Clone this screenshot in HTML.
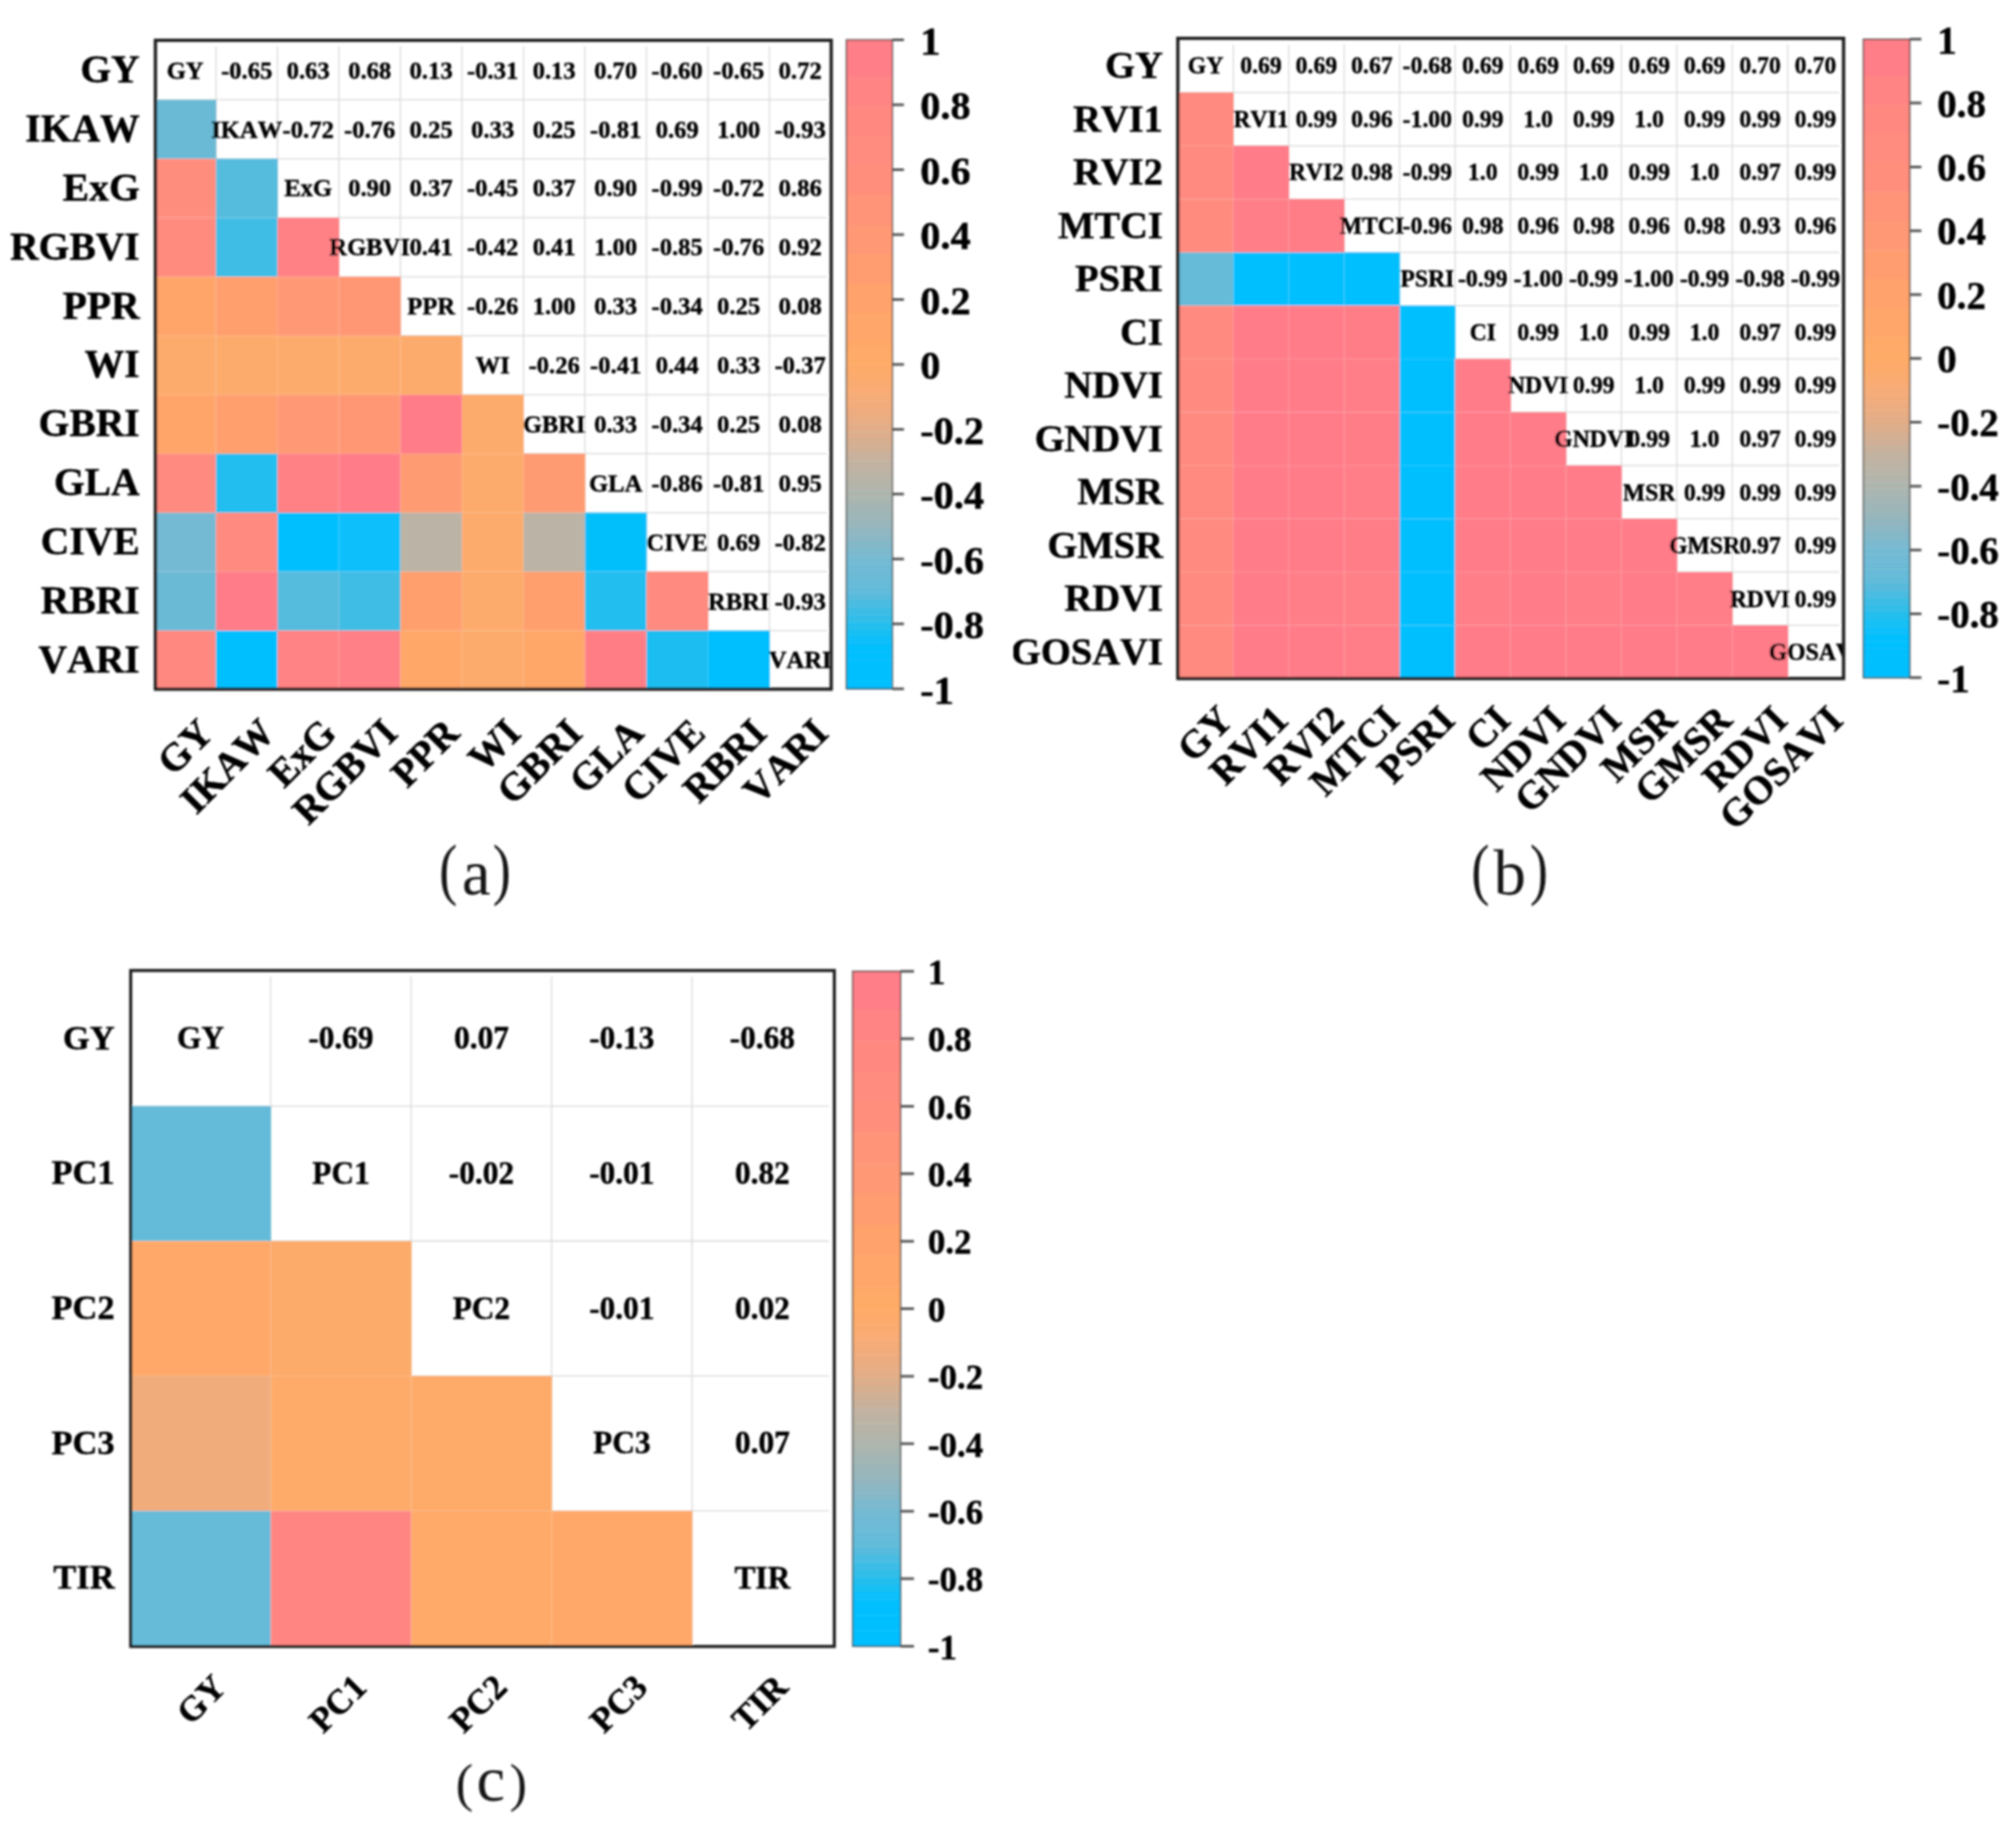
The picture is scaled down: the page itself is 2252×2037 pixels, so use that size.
<!DOCTYPE html>
<html lang="en">
<head>
<meta charset="utf-8">
<title>Correlation heatmaps</title>
<style>
html,body{margin:0;padding:0;background:#fff;}
body{width:2252px;height:2037px;overflow:hidden;}
svg{display:block;}
text{white-space:pre;font-kerning:none;}
</style>
</head>
<body>
<svg width="2252" height="2037" viewBox="0 0 2252 2037">
<defs>
<clipPath id="rowclipb"><rect x="1132.7" y="0" width="400" height="900"/></clipPath>
<filter id="soft" x="-2%" y="-2%" width="104%" height="104%"><feGaussianBlur stdDeviation="1.0"/></filter>
</defs>
<rect x="0" y="0" width="2252" height="2037" fill="#fff"/>
<g filter="url(#soft)">
<g id="panel-a">
<clipPath id="clip-a"><rect x="172.5" y="45.6" width="755.7" height="724.57"/></clipPath>
<path d="M241.2 51.6V770.17M172.5 111.47H924.2M309.9 51.6V770.17M172.5 177.34H924.2M378.6 51.6V770.17M172.5 243.21H924.2M447.3 51.6V770.17M172.5 309.08H924.2M516 51.6V770.17M172.5 374.95H924.2M584.7 51.6V770.17M172.5 440.82H924.2M653.4 51.6V770.17M172.5 506.69H924.2M722.1 51.6V770.17M172.5 572.56H924.2M790.8 51.6V770.17M172.5 638.43H924.2M859.5 51.6V770.17M172.5 704.3H924.2" stroke="#d9d9d9" stroke-width="1.3" fill="none"/>
<rect x="172.5" y="111.47" width="69" height="66.17" fill="#6bbad6"/>
<rect x="172.5" y="177.34" width="69" height="66.17" fill="#ff8d7d"/>
<rect x="241.2" y="177.34" width="69" height="66.17" fill="#56bcde"/>
<rect x="172.5" y="243.21" width="69" height="66.17" fill="#ff8b7e"/>
<rect x="241.2" y="243.21" width="69" height="66.17" fill="#3fbde5"/>
<rect x="309.9" y="243.21" width="69" height="66.17" fill="#ff8185"/>
<rect x="172.5" y="309.08" width="69" height="66.17" fill="#ffa56a"/>
<rect x="241.2" y="309.08" width="69" height="66.17" fill="#ff9f6e"/>
<rect x="309.9" y="309.08" width="69" height="66.17" fill="#ff9974"/>
<rect x="378.6" y="309.08" width="69" height="66.17" fill="#ff9775"/>
<rect x="172.5" y="374.95" width="69" height="66.17" fill="#fdab6c"/>
<rect x="241.2" y="374.95" width="69" height="66.17" fill="#fdab6c"/>
<rect x="309.9" y="374.95" width="69" height="66.17" fill="#fdab6c"/>
<rect x="378.6" y="374.95" width="69" height="66.17" fill="#fdab6c"/>
<rect x="447.3" y="374.95" width="69" height="66.17" fill="#fdab6c"/>
<rect x="172.5" y="440.82" width="69" height="66.17" fill="#ffa56a"/>
<rect x="241.2" y="440.82" width="69" height="66.17" fill="#ff9f6e"/>
<rect x="309.9" y="440.82" width="69" height="66.17" fill="#ff9974"/>
<rect x="378.6" y="440.82" width="69" height="66.17" fill="#ff9775"/>
<rect x="447.3" y="440.82" width="69" height="66.17" fill="#ff7c88"/>
<rect x="516" y="440.82" width="69" height="66.17" fill="#fdab6c"/>
<rect x="172.5" y="506.69" width="69" height="66.17" fill="#ff8a7f"/>
<rect x="241.2" y="506.69" width="69" height="66.17" fill="#22beef"/>
<rect x="309.9" y="506.69" width="69" height="66.17" fill="#ff8185"/>
<rect x="378.6" y="506.69" width="69" height="66.17" fill="#ff7c88"/>
<rect x="447.3" y="506.69" width="69" height="66.17" fill="#ff9b72"/>
<rect x="516" y="506.69" width="69" height="66.17" fill="#fdab6c"/>
<rect x="584.7" y="506.69" width="69" height="66.17" fill="#ff9b72"/>
<rect x="172.5" y="572.56" width="69" height="66.17" fill="#75bad3"/>
<rect x="241.2" y="572.56" width="69" height="66.17" fill="#ff8a7f"/>
<rect x="309.9" y="572.56" width="69" height="66.17" fill="#00bfff"/>
<rect x="378.6" y="572.56" width="69" height="66.17" fill="#08bffa"/>
<rect x="447.3" y="572.56" width="69" height="66.17" fill="#bbb3a5"/>
<rect x="516" y="572.56" width="69" height="66.17" fill="#fdab6c"/>
<rect x="584.7" y="572.56" width="69" height="66.17" fill="#bbb3a5"/>
<rect x="653.4" y="572.56" width="69" height="66.17" fill="#06bffb"/>
<rect x="172.5" y="638.43" width="69" height="66.17" fill="#6bbad6"/>
<rect x="241.2" y="638.43" width="69" height="66.17" fill="#ff7c88"/>
<rect x="309.9" y="638.43" width="69" height="66.17" fill="#56bcde"/>
<rect x="378.6" y="638.43" width="69" height="66.17" fill="#3fbde5"/>
<rect x="447.3" y="638.43" width="69" height="66.17" fill="#ff9f6e"/>
<rect x="516" y="638.43" width="69" height="66.17" fill="#fdab6c"/>
<rect x="584.7" y="638.43" width="69" height="66.17" fill="#ff9f6e"/>
<rect x="653.4" y="638.43" width="69" height="66.17" fill="#22beef"/>
<rect x="722.1" y="638.43" width="69" height="66.17" fill="#ff8a7f"/>
<rect x="172.5" y="704.3" width="69" height="66.17" fill="#ff8980"/>
<rect x="241.2" y="704.3" width="69" height="66.17" fill="#00bfff"/>
<rect x="309.9" y="704.3" width="69" height="66.17" fill="#ff8384"/>
<rect x="378.6" y="704.3" width="69" height="66.17" fill="#ff8086"/>
<rect x="447.3" y="704.3" width="69" height="66.17" fill="#ffa769"/>
<rect x="516" y="704.3" width="69" height="66.17" fill="#fdab6c"/>
<rect x="584.7" y="704.3" width="69" height="66.17" fill="#ffa769"/>
<rect x="653.4" y="704.3" width="69" height="66.17" fill="#ff7e86"/>
<rect x="722.1" y="704.3" width="69" height="66.17" fill="#1bbef2"/>
<rect x="790.8" y="704.3" width="69" height="66.17" fill="#00bfff"/>
<path d="M241.2 177.34V770.17M172.5 111.47H172.5M309.9 243.21V770.17M172.5 177.34H241.2M378.6 309.08V770.17M172.5 243.21H309.9M447.3 374.95V770.17M172.5 309.08H378.6M516 440.82V770.17M172.5 374.95H447.3M584.7 506.69V770.17M172.5 440.82H516M653.4 572.56V770.17M172.5 506.69H584.7M722.1 638.43V770.17M172.5 572.56H653.4M790.8 704.3V770.17M172.5 638.43H722.1M859.5 770.17V770.17M172.5 704.3H790.8" stroke="#fff" stroke-opacity="0.16" stroke-width="1.3" fill="none"/>
<g clip-path="url(#clip-a)" font-family="'Liberation Serif','DejaVu Serif',serif" font-weight="bold" font-size="27.5" text-anchor="middle" fill="#000" stroke="#000" stroke-width="0.45">
<text x="206.85" y="87.75">GY</text>
<text x="275.55" y="87.75">-0.65</text>
<text x="344.25" y="87.75">0.63</text>
<text x="412.95" y="87.75">0.68</text>
<text x="481.65" y="87.75">0.13</text>
<text x="550.35" y="87.75">-0.31</text>
<text x="619.05" y="87.75">0.13</text>
<text x="687.75" y="87.75">0.70</text>
<text x="756.45" y="87.75">-0.60</text>
<text x="825.15" y="87.75">-0.65</text>
<text x="893.85" y="87.75">0.72</text>
<text x="275.55" y="153.62">IKAW</text>
<text x="344.25" y="153.62">-0.72</text>
<text x="412.95" y="153.62">-0.76</text>
<text x="481.65" y="153.62">0.25</text>
<text x="550.35" y="153.62">0.33</text>
<text x="619.05" y="153.62">0.25</text>
<text x="687.75" y="153.62">-0.81</text>
<text x="756.45" y="153.62">0.69</text>
<text x="825.15" y="153.62">1.00</text>
<text x="893.85" y="153.62">-0.93</text>
<text x="344.25" y="219.49">ExG</text>
<text x="412.95" y="219.49">0.90</text>
<text x="481.65" y="219.49">0.37</text>
<text x="550.35" y="219.49">-0.45</text>
<text x="619.05" y="219.49">0.37</text>
<text x="687.75" y="219.49">0.90</text>
<text x="756.45" y="219.49">-0.99</text>
<text x="825.15" y="219.49">-0.72</text>
<text x="893.85" y="219.49">0.86</text>
<text x="412.95" y="285.36">RGBVI</text>
<text x="481.65" y="285.36">0.41</text>
<text x="550.35" y="285.36">-0.42</text>
<text x="619.05" y="285.36">0.41</text>
<text x="687.75" y="285.36">1.00</text>
<text x="756.45" y="285.36">-0.85</text>
<text x="825.15" y="285.36">-0.76</text>
<text x="893.85" y="285.36">0.92</text>
<text x="481.65" y="351.23">PPR</text>
<text x="550.35" y="351.23">-0.26</text>
<text x="619.05" y="351.23">1.00</text>
<text x="687.75" y="351.23">0.33</text>
<text x="756.45" y="351.23">-0.34</text>
<text x="825.15" y="351.23">0.25</text>
<text x="893.85" y="351.23">0.08</text>
<text x="550.35" y="417.1">WI</text>
<text x="619.05" y="417.1">-0.26</text>
<text x="687.75" y="417.1">-0.41</text>
<text x="756.45" y="417.1">0.44</text>
<text x="825.15" y="417.1">0.33</text>
<text x="893.85" y="417.1">-0.37</text>
<text x="619.05" y="482.97">GBRI</text>
<text x="687.75" y="482.97">0.33</text>
<text x="756.45" y="482.97">-0.34</text>
<text x="825.15" y="482.97">0.25</text>
<text x="893.85" y="482.97">0.08</text>
<text x="687.75" y="548.84">GLA</text>
<text x="756.45" y="548.84">-0.86</text>
<text x="825.15" y="548.84">-0.81</text>
<text x="893.85" y="548.84">0.95</text>
<text x="756.45" y="614.71">CIVE</text>
<text x="825.15" y="614.71">0.69</text>
<text x="893.85" y="614.71">-0.82</text>
<text x="825.15" y="680.58">RBRI</text>
<text x="893.85" y="680.58">-0.93</text>
<text x="893.85" y="746.45">VARI</text>
</g>
<rect x="173.6" y="45" width="754.9" height="724.6" fill="none" stroke="#1c1c1c" stroke-width="3.6"/>
<g font-family="'Liberation Serif','DejaVu Serif',serif" font-weight="bold" font-size="44.2" text-anchor="end" fill="#000" stroke="#000" stroke-width="0.5">
<text x="156" y="92.14">GY</text>
<text x="156" y="158.01">IKAW</text>
<text x="156" y="223.88">ExG</text>
<text x="156" y="289.75">RGBVI</text>
<text x="156" y="355.62">PPR</text>
<text x="156" y="421.49">WI</text>
<text x="156" y="487.36">GBRI</text>
<text x="156" y="553.23">GLA</text>
<text x="156" y="619.1">CIVE</text>
<text x="156" y="684.97">RBRI</text>
<text x="156" y="750.84">VARI</text>
</g>
<g font-family="'Liberation Serif','DejaVu Serif',serif" font-weight="bold" font-size="44" text-anchor="end" fill="#000" stroke="#000" stroke-width="0.5">
<text transform="translate(240.35 821) rotate(-45)">GY</text>
<text transform="translate(309.05 821) rotate(-45)">IKAW</text>
<text transform="translate(377.75 821) rotate(-45)">ExG</text>
<text transform="translate(446.45 821) rotate(-45)">RGBVI</text>
<text transform="translate(515.15 821) rotate(-45)">PPR</text>
<text transform="translate(583.85 821) rotate(-45)">WI</text>
<text transform="translate(652.55 821) rotate(-45)">GBRI</text>
<text transform="translate(721.25 821) rotate(-45)">GLA</text>
<text transform="translate(789.95 821) rotate(-45)">CIVE</text>
<text transform="translate(858.65 821) rotate(-45)">RBRI</text>
<text transform="translate(927.35 821) rotate(-45)">VARI</text>
</g>
<rect x="945.5" y="44.5" width="51.3" height="42.08" fill="#ff7e87"/>
<rect x="945.5" y="86.18" width="51.3" height="33.34" fill="#ff8483"/>
<rect x="945.5" y="119.12" width="51.3" height="33.34" fill="#ff8880"/>
<rect x="945.5" y="152.06" width="51.3" height="33.34" fill="#ff8c7e"/>
<rect x="945.5" y="185" width="51.3" height="33.34" fill="#ff8f7b"/>
<rect x="945.5" y="217.94" width="51.3" height="33.34" fill="#ff9478"/>
<rect x="945.5" y="250.89" width="51.3" height="33.34" fill="#ff9874"/>
<rect x="945.5" y="283.83" width="51.3" height="33.34" fill="#ff9d70"/>
<rect x="945.5" y="316.77" width="51.3" height="33.34" fill="#ffa26c"/>
<rect x="945.5" y="349.71" width="51.3" height="33.34" fill="#ffa66a"/>
<rect x="945.5" y="382.66" width="51.3" height="8.63" fill="#ffa968"/>
<rect x="945.5" y="390.88" width="51.3" height="8.63" fill="#ffaa68"/>
<rect x="945.5" y="399.11" width="51.3" height="8.63" fill="#ffab67"/>
<rect x="945.5" y="407.33" width="51.3" height="8.63" fill="#feab69"/>
<rect x="945.5" y="415.56" width="51.3" height="8.63" fill="#fcab6d"/>
<rect x="945.5" y="423.79" width="51.3" height="8.63" fill="#faac70"/>
<rect x="945.5" y="432.01" width="51.3" height="8.63" fill="#f9ac74"/>
<rect x="945.5" y="440.24" width="51.3" height="8.63" fill="#f6ac78"/>
<rect x="945.5" y="448.47" width="51.3" height="8.63" fill="#f2ac7b"/>
<rect x="945.5" y="456.69" width="51.3" height="8.63" fill="#edac7f"/>
<rect x="945.5" y="464.92" width="51.3" height="8.63" fill="#e8ad83"/>
<rect x="945.5" y="473.15" width="51.3" height="8.63" fill="#e3ad87"/>
<rect x="945.5" y="481.37" width="51.3" height="8.63" fill="#ddae8c"/>
<rect x="945.5" y="489.6" width="51.3" height="8.63" fill="#d6af91"/>
<rect x="945.5" y="497.83" width="51.3" height="8.63" fill="#cfb097"/>
<rect x="945.5" y="506.05" width="51.3" height="8.63" fill="#c8b19c"/>
<rect x="945.5" y="514.28" width="51.3" height="8.63" fill="#c1b2a1"/>
<rect x="945.5" y="522.51" width="51.3" height="8.63" fill="#bdb3a4"/>
<rect x="945.5" y="530.73" width="51.3" height="8.63" fill="#b8b4a7"/>
<rect x="945.5" y="538.96" width="51.3" height="8.63" fill="#b3b4aa"/>
<rect x="945.5" y="547.19" width="51.3" height="8.63" fill="#aeb5ad"/>
<rect x="945.5" y="555.41" width="51.3" height="8.63" fill="#a9b5b0"/>
<rect x="945.5" y="563.64" width="51.3" height="8.63" fill="#a3b5b4"/>
<rect x="945.5" y="571.86" width="51.3" height="8.63" fill="#9eb6b7"/>
<rect x="945.5" y="580.09" width="51.3" height="8.63" fill="#99b6ba"/>
<rect x="945.5" y="588.32" width="51.3" height="8.63" fill="#92b6bf"/>
<rect x="945.5" y="596.54" width="51.3" height="8.63" fill="#8bb7c4"/>
<rect x="945.5" y="604.77" width="51.3" height="8.63" fill="#83b8c9"/>
<rect x="945.5" y="613" width="51.3" height="8.63" fill="#7cb9ce"/>
<rect x="945.5" y="621.22" width="51.3" height="8.63" fill="#74bad3"/>
<rect x="945.5" y="629.45" width="51.3" height="8.63" fill="#70bad5"/>
<rect x="945.5" y="637.68" width="51.3" height="8.63" fill="#6cbad6"/>
<rect x="945.5" y="645.9" width="51.3" height="8.63" fill="#68bbd8"/>
<rect x="945.5" y="654.13" width="51.3" height="8.63" fill="#63bbda"/>
<rect x="945.5" y="662.36" width="51.3" height="8.63" fill="#59bbdd"/>
<rect x="945.5" y="670.58" width="51.3" height="8.63" fill="#4bbce1"/>
<rect x="945.5" y="678.81" width="51.3" height="8.63" fill="#3ebde5"/>
<rect x="945.5" y="687.04" width="51.3" height="8.63" fill="#31bee9"/>
<rect x="945.5" y="695.26" width="51.3" height="8.63" fill="#23beee"/>
<rect x="945.5" y="703.49" width="51.3" height="8.63" fill="#15bff4"/>
<rect x="945.5" y="711.71" width="51.3" height="8.63" fill="#08bffa"/>
<rect x="945.5" y="719.94" width="51.3" height="8.63" fill="#04bffd"/>
<rect x="945.5" y="728.17" width="51.3" height="8.63" fill="#00bfff"/>
<rect x="945.5" y="736.39" width="51.3" height="8.63" fill="#00bfff"/>
<rect x="945.5" y="744.62" width="51.3" height="8.63" fill="#00bfff"/>
<rect x="945.5" y="752.85" width="51.3" height="8.63" fill="#00bfff"/>
<rect x="945.5" y="761.07" width="51.3" height="8.63" fill="#00bfff"/>
<rect x="945.5" y="44.5" width="51.3" height="724.8" fill="none" stroke="#3a3a3a" stroke-opacity="0.85" stroke-width="1.5"/>
<path d="M996.8 44.5h13M996.8 116.98h13M996.8 189.46h13M996.8 261.94h13M996.8 334.42h13M996.8 406.9h13M996.8 479.38h13M996.8 551.86h13M996.8 624.34h13M996.8 696.82h13M996.8 769.3h13" stroke="#5a5a5a" stroke-width="3" fill="none"/>
<g font-family="'Liberation Serif','DejaVu Serif',serif" font-weight="bold" font-size="45" fill="#000" stroke="#000" stroke-width="0.5">
<text x="1028" y="60.71">1</text>
<text x="1028" y="133.19">0.8</text>
<text x="1028" y="205.67">0.6</text>
<text x="1028" y="278.15">0.4</text>
<text x="1028" y="350.63">0.2</text>
<text x="1028" y="423.11">0</text>
<text x="1028" y="495.59">-0.2</text>
<text x="1028" y="568.07">-0.4</text>
<text x="1028" y="640.55">-0.6</text>
<text x="1028" y="713.03">-0.8</text>
<text x="1028" y="785.51">-1</text>
</g>
<g font-family="'Liberation Serif','DejaVu Serif',serif" text-anchor="middle" fill="#161616">
<text transform="translate(500.7 996.3) scale(0.8 1)" font-size="76">(</text>
<text x="531.9" y="998.6" font-size="72">a</text>
<text transform="translate(560.7 996.3) scale(0.8 1)" font-size="76">)</text>
</g>
</g>
<g id="panel-b">
<clipPath id="clip-b"><rect x="1315.7" y="43.8" width="743.28" height="714.12"/></clipPath>
<path d="M1377.64 49.8V757.92M1315.7 103.31H2054.98M1439.58 49.8V757.92M1315.7 162.82H2054.98M1501.52 49.8V757.92M1315.7 222.33H2054.98M1563.46 49.8V757.92M1315.7 281.84H2054.98M1625.4 49.8V757.92M1315.7 341.35H2054.98M1687.34 49.8V757.92M1315.7 400.86H2054.98M1749.28 49.8V757.92M1315.7 460.37H2054.98M1811.22 49.8V757.92M1315.7 519.88H2054.98M1873.16 49.8V757.92M1315.7 579.39H2054.98M1935.1 49.8V757.92M1315.7 638.9H2054.98M1997.04 49.8V757.92M1315.7 698.41H2054.98" stroke="#d9d9d9" stroke-width="1.3" fill="none"/>
<rect x="1315.7" y="103.31" width="62.24" height="59.81" fill="#ff8a7f"/>
<rect x="1315.7" y="162.82" width="62.24" height="59.81" fill="#ff8a7f"/>
<rect x="1377.64" y="162.82" width="62.24" height="59.81" fill="#ff7c88"/>
<rect x="1315.7" y="222.33" width="62.24" height="59.81" fill="#ff8b7e"/>
<rect x="1377.64" y="222.33" width="62.24" height="59.81" fill="#ff7e87"/>
<rect x="1439.58" y="222.33" width="62.24" height="59.81" fill="#ff7d87"/>
<rect x="1315.7" y="281.84" width="62.24" height="59.81" fill="#66bbd9"/>
<rect x="1377.64" y="281.84" width="62.24" height="59.81" fill="#00bfff"/>
<rect x="1439.58" y="281.84" width="62.24" height="59.81" fill="#00bfff"/>
<rect x="1501.52" y="281.84" width="62.24" height="59.81" fill="#00bfff"/>
<rect x="1315.7" y="341.35" width="62.24" height="59.81" fill="#ff8a7f"/>
<rect x="1377.64" y="341.35" width="62.24" height="59.81" fill="#ff7c88"/>
<rect x="1439.58" y="341.35" width="62.24" height="59.81" fill="#ff7c88"/>
<rect x="1501.52" y="341.35" width="62.24" height="59.81" fill="#ff7d87"/>
<rect x="1563.46" y="341.35" width="62.24" height="59.81" fill="#00bfff"/>
<rect x="1315.7" y="400.86" width="62.24" height="59.81" fill="#ff8a7f"/>
<rect x="1377.64" y="400.86" width="62.24" height="59.81" fill="#ff7c88"/>
<rect x="1439.58" y="400.86" width="62.24" height="59.81" fill="#ff7c88"/>
<rect x="1501.52" y="400.86" width="62.24" height="59.81" fill="#ff7e87"/>
<rect x="1563.46" y="400.86" width="62.24" height="59.81" fill="#00bfff"/>
<rect x="1625.4" y="400.86" width="62.24" height="59.81" fill="#ff7c88"/>
<rect x="1315.7" y="460.37" width="62.24" height="59.81" fill="#ff8a7f"/>
<rect x="1377.64" y="460.37" width="62.24" height="59.81" fill="#ff7c88"/>
<rect x="1439.58" y="460.37" width="62.24" height="59.81" fill="#ff7c88"/>
<rect x="1501.52" y="460.37" width="62.24" height="59.81" fill="#ff7d87"/>
<rect x="1563.46" y="460.37" width="62.24" height="59.81" fill="#00bfff"/>
<rect x="1625.4" y="460.37" width="62.24" height="59.81" fill="#ff7c88"/>
<rect x="1687.34" y="460.37" width="62.24" height="59.81" fill="#ff7c88"/>
<rect x="1315.7" y="519.88" width="62.24" height="59.81" fill="#ff8a7f"/>
<rect x="1377.64" y="519.88" width="62.24" height="59.81" fill="#ff7c88"/>
<rect x="1439.58" y="519.88" width="62.24" height="59.81" fill="#ff7c88"/>
<rect x="1501.52" y="519.88" width="62.24" height="59.81" fill="#ff7e87"/>
<rect x="1563.46" y="519.88" width="62.24" height="59.81" fill="#00bfff"/>
<rect x="1625.4" y="519.88" width="62.24" height="59.81" fill="#ff7c88"/>
<rect x="1687.34" y="519.88" width="62.24" height="59.81" fill="#ff7c88"/>
<rect x="1749.28" y="519.88" width="62.24" height="59.81" fill="#ff7c88"/>
<rect x="1315.7" y="579.39" width="62.24" height="59.81" fill="#ff8a7f"/>
<rect x="1377.64" y="579.39" width="62.24" height="59.81" fill="#ff7c88"/>
<rect x="1439.58" y="579.39" width="62.24" height="59.81" fill="#ff7c88"/>
<rect x="1501.52" y="579.39" width="62.24" height="59.81" fill="#ff7d87"/>
<rect x="1563.46" y="579.39" width="62.24" height="59.81" fill="#00bfff"/>
<rect x="1625.4" y="579.39" width="62.24" height="59.81" fill="#ff7c88"/>
<rect x="1687.34" y="579.39" width="62.24" height="59.81" fill="#ff7c88"/>
<rect x="1749.28" y="579.39" width="62.24" height="59.81" fill="#ff7c88"/>
<rect x="1811.22" y="579.39" width="62.24" height="59.81" fill="#ff7c88"/>
<rect x="1315.7" y="638.9" width="62.24" height="59.81" fill="#ff8a7f"/>
<rect x="1377.64" y="638.9" width="62.24" height="59.81" fill="#ff7c88"/>
<rect x="1439.58" y="638.9" width="62.24" height="59.81" fill="#ff7e87"/>
<rect x="1501.52" y="638.9" width="62.24" height="59.81" fill="#ff8086"/>
<rect x="1563.46" y="638.9" width="62.24" height="59.81" fill="#00bfff"/>
<rect x="1625.4" y="638.9" width="62.24" height="59.81" fill="#ff7e87"/>
<rect x="1687.34" y="638.9" width="62.24" height="59.81" fill="#ff7c88"/>
<rect x="1749.28" y="638.9" width="62.24" height="59.81" fill="#ff7e87"/>
<rect x="1811.22" y="638.9" width="62.24" height="59.81" fill="#ff7c88"/>
<rect x="1873.16" y="638.9" width="62.24" height="59.81" fill="#ff7e87"/>
<rect x="1315.7" y="698.41" width="62.24" height="59.81" fill="#ff8a7f"/>
<rect x="1377.64" y="698.41" width="62.24" height="59.81" fill="#ff7c88"/>
<rect x="1439.58" y="698.41" width="62.24" height="59.81" fill="#ff7c88"/>
<rect x="1501.52" y="698.41" width="62.24" height="59.81" fill="#ff7e87"/>
<rect x="1563.46" y="698.41" width="62.24" height="59.81" fill="#00bfff"/>
<rect x="1625.4" y="698.41" width="62.24" height="59.81" fill="#ff7c88"/>
<rect x="1687.34" y="698.41" width="62.24" height="59.81" fill="#ff7c88"/>
<rect x="1749.28" y="698.41" width="62.24" height="59.81" fill="#ff7c88"/>
<rect x="1811.22" y="698.41" width="62.24" height="59.81" fill="#ff7c88"/>
<rect x="1873.16" y="698.41" width="62.24" height="59.81" fill="#ff7c88"/>
<rect x="1935.1" y="698.41" width="62.24" height="59.81" fill="#ff7c88"/>
<path d="M1377.64 162.82V757.92M1315.7 103.31H1315.7M1439.58 222.33V757.92M1315.7 162.82H1377.64M1501.52 281.84V757.92M1315.7 222.33H1439.58M1563.46 341.35V757.92M1315.7 281.84H1501.52M1625.4 400.86V757.92M1315.7 341.35H1563.46M1687.34 460.37V757.92M1315.7 400.86H1625.4M1749.28 519.88V757.92M1315.7 460.37H1687.34M1811.22 579.39V757.92M1315.7 519.88H1749.28M1873.16 638.9V757.92M1315.7 579.39H1811.22M1935.1 698.41V757.92M1315.7 638.9H1873.16M1997.04 757.92V757.92M1315.7 698.41H1935.1" stroke="#fff" stroke-opacity="0.16" stroke-width="1.3" fill="none"/>
<g clip-path="url(#clip-b)" font-family="'Liberation Serif','DejaVu Serif',serif" font-weight="bold" font-size="26.5" text-anchor="middle" fill="#000" stroke="#000" stroke-width="0.45">
<text x="1346.67" y="82.43">GY</text>
<text x="1408.61" y="82.43">0.69</text>
<text x="1470.55" y="82.43">0.69</text>
<text x="1532.49" y="82.43">0.67</text>
<text x="1594.43" y="82.43">-0.68</text>
<text x="1656.37" y="82.43">0.69</text>
<text x="1718.31" y="82.43">0.69</text>
<text x="1780.25" y="82.43">0.69</text>
<text x="1842.19" y="82.43">0.69</text>
<text x="1904.13" y="82.43">0.69</text>
<text x="1966.07" y="82.43">0.70</text>
<text x="2028.01" y="82.43">0.70</text>
<text x="1408.61" y="141.94">RVI1</text>
<text x="1470.55" y="141.94">0.99</text>
<text x="1532.49" y="141.94">0.96</text>
<text x="1594.43" y="141.94">-1.00</text>
<text x="1656.37" y="141.94">0.99</text>
<text x="1718.31" y="141.94">1.0</text>
<text x="1780.25" y="141.94">0.99</text>
<text x="1842.19" y="141.94">1.0</text>
<text x="1904.13" y="141.94">0.99</text>
<text x="1966.07" y="141.94">0.99</text>
<text x="2028.01" y="141.94">0.99</text>
<text x="1470.55" y="201.45">RVI2</text>
<text x="1532.49" y="201.45">0.98</text>
<text x="1594.43" y="201.45">-0.99</text>
<text x="1656.37" y="201.45">1.0</text>
<text x="1718.31" y="201.45">0.99</text>
<text x="1780.25" y="201.45">1.0</text>
<text x="1842.19" y="201.45">0.99</text>
<text x="1904.13" y="201.45">1.0</text>
<text x="1966.07" y="201.45">0.97</text>
<text x="2028.01" y="201.45">0.99</text>
<text x="1532.49" y="260.96">MTCI</text>
<text x="1594.43" y="260.96">-0.96</text>
<text x="1656.37" y="260.96">0.98</text>
<text x="1718.31" y="260.96">0.96</text>
<text x="1780.25" y="260.96">0.98</text>
<text x="1842.19" y="260.96">0.96</text>
<text x="1904.13" y="260.96">0.98</text>
<text x="1966.07" y="260.96">0.93</text>
<text x="2028.01" y="260.96">0.96</text>
<text x="1594.43" y="320.47">PSRI</text>
<text x="1656.37" y="320.47">-0.99</text>
<text x="1718.31" y="320.47">-1.00</text>
<text x="1780.25" y="320.47">-0.99</text>
<text x="1842.19" y="320.47">-1.00</text>
<text x="1904.13" y="320.47">-0.99</text>
<text x="1966.07" y="320.47">-0.98</text>
<text x="2028.01" y="320.47">-0.99</text>
<text x="1656.37" y="379.98">CI</text>
<text x="1718.31" y="379.98">0.99</text>
<text x="1780.25" y="379.98">1.0</text>
<text x="1842.19" y="379.98">0.99</text>
<text x="1904.13" y="379.98">1.0</text>
<text x="1966.07" y="379.98">0.97</text>
<text x="2028.01" y="379.98">0.99</text>
<text x="1718.31" y="439.49">NDVI</text>
<text x="1780.25" y="439.49">0.99</text>
<text x="1842.19" y="439.49">1.0</text>
<text x="1904.13" y="439.49">0.99</text>
<text x="1966.07" y="439.49">0.99</text>
<text x="2028.01" y="439.49">0.99</text>
<text x="1780.25" y="499">GNDVI</text>
<text x="1842.19" y="499">0.99</text>
<text x="1904.13" y="499">1.0</text>
<text x="1966.07" y="499">0.97</text>
<text x="2028.01" y="499">0.99</text>
<text x="1842.19" y="558.51">MSR</text>
<text x="1904.13" y="558.51">0.99</text>
<text x="1966.07" y="558.51">0.99</text>
<text x="2028.01" y="558.51">0.99</text>
<text x="1904.13" y="618.02">GMSR</text>
<text x="1966.07" y="618.02">0.97</text>
<text x="2028.01" y="618.02">0.99</text>
<text x="1966.07" y="677.53">RDVI</text>
<text x="2028.01" y="677.53">0.99</text>
<text x="2028.01" y="737.04">GOSAVI</text>
</g>
<rect x="1315.7" y="42.8" width="743.7" height="714.9" fill="none" stroke="#1c1c1c" stroke-width="3.6"/>
<g font-family="'Liberation Serif','DejaVu Serif',serif" font-weight="bold" font-size="43" text-anchor="end" fill="#000" stroke="#000" stroke-width="0.5" clip-path="url(#rowclipb)">
<text x="1299" y="87.16">GY</text>
<text x="1299" y="146.67">RVI1</text>
<text x="1299" y="206.18">RVI2</text>
<text x="1299" y="265.69">MTCI</text>
<text x="1299" y="325.2">PSRI</text>
<text x="1299" y="384.71">CI</text>
<text x="1299" y="444.22">NDVI</text>
<text x="1299" y="503.73">GNDVI</text>
<text x="1299" y="563.24">MSR</text>
<text x="1299" y="622.75">GMSR</text>
<text x="1299" y="682.26">RDVI</text>
<text x="1299" y="741.77">GOSAVI</text>
</g>
<g font-family="'Liberation Serif','DejaVu Serif',serif" font-weight="bold" font-size="44" text-anchor="end" fill="#000" stroke="#000" stroke-width="0.5">
<text transform="translate(1379.57 806.3) rotate(-45)">GY</text>
<text transform="translate(1441.51 806.3) rotate(-45)">RVI1</text>
<text transform="translate(1503.45 806.3) rotate(-45)">RVI2</text>
<text transform="translate(1565.39 806.3) rotate(-45)">MTCI</text>
<text transform="translate(1627.33 806.3) rotate(-45)">PSRI</text>
<text transform="translate(1689.27 806.3) rotate(-45)">CI</text>
<text transform="translate(1751.21 806.3) rotate(-45)">NDVI</text>
<text transform="translate(1813.15 806.3) rotate(-45)">GNDVI</text>
<text transform="translate(1875.09 806.3) rotate(-45)">MSR</text>
<text transform="translate(1937.03 806.3) rotate(-45)">GMSR</text>
<text transform="translate(1998.97 806.3) rotate(-45)">RDVI</text>
<text transform="translate(2060.91 806.3) rotate(-45)">GOSAVI</text>
</g>
<rect x="2081.5" y="43.8" width="51.9" height="41.4" fill="#ff7e87"/>
<rect x="2081.5" y="84.8" width="51.9" height="32.81" fill="#ff8483"/>
<rect x="2081.5" y="117.2" width="51.9" height="32.81" fill="#ff8880"/>
<rect x="2081.5" y="149.61" width="51.9" height="32.81" fill="#ff8c7e"/>
<rect x="2081.5" y="182.02" width="51.9" height="32.81" fill="#ff8f7b"/>
<rect x="2081.5" y="214.42" width="51.9" height="32.81" fill="#ff9478"/>
<rect x="2081.5" y="246.83" width="51.9" height="32.81" fill="#ff9874"/>
<rect x="2081.5" y="279.23" width="51.9" height="32.81" fill="#ff9d70"/>
<rect x="2081.5" y="311.64" width="51.9" height="32.81" fill="#ffa26c"/>
<rect x="2081.5" y="344.04" width="51.9" height="32.81" fill="#ffa66a"/>
<rect x="2081.5" y="376.45" width="51.9" height="8.49" fill="#ffa968"/>
<rect x="2081.5" y="384.54" width="51.9" height="8.49" fill="#ffaa68"/>
<rect x="2081.5" y="392.64" width="51.9" height="8.49" fill="#ffab67"/>
<rect x="2081.5" y="400.73" width="51.9" height="8.49" fill="#feab69"/>
<rect x="2081.5" y="408.82" width="51.9" height="8.49" fill="#fcab6d"/>
<rect x="2081.5" y="416.91" width="51.9" height="8.49" fill="#faac70"/>
<rect x="2081.5" y="425.01" width="51.9" height="8.49" fill="#f9ac74"/>
<rect x="2081.5" y="433.1" width="51.9" height="8.49" fill="#f6ac78"/>
<rect x="2081.5" y="441.19" width="51.9" height="8.49" fill="#f2ac7b"/>
<rect x="2081.5" y="449.28" width="51.9" height="8.49" fill="#edac7f"/>
<rect x="2081.5" y="457.38" width="51.9" height="8.49" fill="#e8ad83"/>
<rect x="2081.5" y="465.47" width="51.9" height="8.49" fill="#e3ad87"/>
<rect x="2081.5" y="473.56" width="51.9" height="8.49" fill="#ddae8c"/>
<rect x="2081.5" y="481.65" width="51.9" height="8.49" fill="#d6af91"/>
<rect x="2081.5" y="489.75" width="51.9" height="8.49" fill="#cfb097"/>
<rect x="2081.5" y="497.84" width="51.9" height="8.49" fill="#c8b19c"/>
<rect x="2081.5" y="505.93" width="51.9" height="8.49" fill="#c1b2a1"/>
<rect x="2081.5" y="514.02" width="51.9" height="8.49" fill="#bdb3a4"/>
<rect x="2081.5" y="522.12" width="51.9" height="8.49" fill="#b8b4a7"/>
<rect x="2081.5" y="530.21" width="51.9" height="8.49" fill="#b3b4aa"/>
<rect x="2081.5" y="538.3" width="51.9" height="8.49" fill="#aeb5ad"/>
<rect x="2081.5" y="546.39" width="51.9" height="8.49" fill="#a9b5b0"/>
<rect x="2081.5" y="554.49" width="51.9" height="8.49" fill="#a3b5b4"/>
<rect x="2081.5" y="562.58" width="51.9" height="8.49" fill="#9eb6b7"/>
<rect x="2081.5" y="570.67" width="51.9" height="8.49" fill="#99b6ba"/>
<rect x="2081.5" y="578.76" width="51.9" height="8.49" fill="#92b6bf"/>
<rect x="2081.5" y="586.86" width="51.9" height="8.49" fill="#8bb7c4"/>
<rect x="2081.5" y="594.95" width="51.9" height="8.49" fill="#83b8c9"/>
<rect x="2081.5" y="603.04" width="51.9" height="8.49" fill="#7cb9ce"/>
<rect x="2081.5" y="611.13" width="51.9" height="8.49" fill="#74bad3"/>
<rect x="2081.5" y="619.23" width="51.9" height="8.49" fill="#70bad5"/>
<rect x="2081.5" y="627.32" width="51.9" height="8.49" fill="#6cbad6"/>
<rect x="2081.5" y="635.41" width="51.9" height="8.49" fill="#68bbd8"/>
<rect x="2081.5" y="643.5" width="51.9" height="8.49" fill="#63bbda"/>
<rect x="2081.5" y="651.6" width="51.9" height="8.49" fill="#59bbdd"/>
<rect x="2081.5" y="659.69" width="51.9" height="8.49" fill="#4bbce1"/>
<rect x="2081.5" y="667.78" width="51.9" height="8.49" fill="#3ebde5"/>
<rect x="2081.5" y="675.87" width="51.9" height="8.49" fill="#31bee9"/>
<rect x="2081.5" y="683.97" width="51.9" height="8.49" fill="#23beee"/>
<rect x="2081.5" y="692.06" width="51.9" height="8.49" fill="#15bff4"/>
<rect x="2081.5" y="700.15" width="51.9" height="8.49" fill="#08bffa"/>
<rect x="2081.5" y="708.24" width="51.9" height="8.49" fill="#04bffd"/>
<rect x="2081.5" y="716.34" width="51.9" height="8.49" fill="#00bfff"/>
<rect x="2081.5" y="724.43" width="51.9" height="8.49" fill="#00bfff"/>
<rect x="2081.5" y="732.52" width="51.9" height="8.49" fill="#00bfff"/>
<rect x="2081.5" y="740.61" width="51.9" height="8.49" fill="#00bfff"/>
<rect x="2081.5" y="748.71" width="51.9" height="8.49" fill="#00bfff"/>
<rect x="2081.5" y="43.8" width="51.9" height="713" fill="none" stroke="#3a3a3a" stroke-opacity="0.85" stroke-width="1.5"/>
<path d="M2133.4 43.8h13M2133.4 115.1h13M2133.4 186.4h13M2133.4 257.7h13M2133.4 329h13M2133.4 400.3h13M2133.4 471.6h13M2133.4 542.9h13M2133.4 614.2h13M2133.4 685.5h13M2133.4 756.8h13" stroke="#5a5a5a" stroke-width="3" fill="none"/>
<g font-family="'Liberation Serif','DejaVu Serif',serif" font-weight="bold" font-size="43.5" fill="#000" stroke="#000" stroke-width="0.5">
<text x="2164" y="59.5">1</text>
<text x="2164" y="130.8">0.8</text>
<text x="2164" y="202.1">0.6</text>
<text x="2164" y="273.4">0.4</text>
<text x="2164" y="344.7">0.2</text>
<text x="2164" y="416">0</text>
<text x="2164" y="487.3">-0.2</text>
<text x="2164" y="558.6">-0.4</text>
<text x="2164" y="629.9">-0.6</text>
<text x="2164" y="701.2">-0.8</text>
<text x="2164" y="772.5">-1</text>
</g>
<g font-family="'Liberation Serif','DejaVu Serif',serif" text-anchor="middle" fill="#161616">
<text transform="translate(1653.7 996.3) scale(0.8 1)" font-size="76">(</text>
<text x="1686.6" y="998.5" font-size="72">b</text>
<text transform="translate(1719 996.3) scale(0.8 1)" font-size="76">)</text>
</g>
</g>
<g id="panel-c">
<clipPath id="clip-c"><rect x="145.5" y="1084.6" width="784.5" height="753.5"/></clipPath>
<path d="M302.4 1090.6V1838.1M145.5 1235.3H926M459.3 1090.6V1838.1M145.5 1386H926M616.2 1090.6V1838.1M145.5 1536.7H926M773.1 1090.6V1838.1M145.5 1687.4H926" stroke="#d9d9d9" stroke-width="1.3" fill="none"/>
<rect x="145.5" y="1235.3" width="157.2" height="151" fill="#64bbd9"/>
<rect x="145.5" y="1386" width="157.2" height="151" fill="#ffa869"/>
<rect x="302.4" y="1386" width="157.2" height="151" fill="#fdab6a"/>
<rect x="145.5" y="1536.7" width="157.2" height="151" fill="#f1ac7c"/>
<rect x="302.4" y="1536.7" width="157.2" height="151" fill="#feab69"/>
<rect x="459.3" y="1536.7" width="157.2" height="151" fill="#feab69"/>
<rect x="145.5" y="1687.4" width="157.2" height="151" fill="#66bbd9"/>
<rect x="302.4" y="1687.4" width="157.2" height="151" fill="#ff8583"/>
<rect x="459.3" y="1687.4" width="157.2" height="151" fill="#ffaa68"/>
<rect x="616.2" y="1687.4" width="157.2" height="151" fill="#ffa869"/>
<path d="M302.4 1386V1838.1M145.5 1235.3H145.5M459.3 1536.7V1838.1M145.5 1386H302.4M616.2 1687.4V1838.1M145.5 1536.7H459.3M773.1 1838.1V1838.1M145.5 1687.4H616.2" stroke="#fff" stroke-opacity="0.16" stroke-width="1.3" fill="none"/>
<g clip-path="url(#clip-c)" font-family="'Liberation Serif','DejaVu Serif',serif" font-weight="bold" font-size="35" text-anchor="middle" fill="#000" stroke="#000" stroke-width="0.45">
<text x="223.95" y="1171.17">GY</text>
<text x="380.85" y="1171.17">-0.69</text>
<text x="537.75" y="1171.17">0.07</text>
<text x="694.65" y="1171.17">-0.13</text>
<text x="851.55" y="1171.17">-0.68</text>
<text x="380.85" y="1321.87">PC1</text>
<text x="537.75" y="1321.87">-0.02</text>
<text x="694.65" y="1321.87">-0.01</text>
<text x="851.55" y="1321.87">0.82</text>
<text x="537.75" y="1472.57">PC2</text>
<text x="694.65" y="1472.57">-0.01</text>
<text x="851.55" y="1472.57">0.02</text>
<text x="694.65" y="1623.27">PC3</text>
<text x="851.55" y="1623.27">0.07</text>
<text x="851.55" y="1773.97">TIR</text>
</g>
<rect x="146" y="1083.8" width="786" height="754.9" fill="none" stroke="#1c1c1c" stroke-width="3.4"/>
<g font-family="'Liberation Serif','DejaVu Serif',serif" font-weight="bold" font-size="38.5" text-anchor="end" fill="#000" stroke="#000" stroke-width="0.5">
<text x="128" y="1171.65">GY</text>
<text x="128" y="1322.35">PC1</text>
<text x="128" y="1473.05">PC2</text>
<text x="128" y="1623.75">PC3</text>
<text x="128" y="1774.45">TIR</text>
</g>
<g font-family="'Liberation Serif','DejaVu Serif',serif" font-weight="bold" font-size="39" text-anchor="end" fill="#000" stroke="#000" stroke-width="0.5">
<text transform="translate(254.65 1886.4) rotate(-45)">GY</text>
<text transform="translate(411.55 1886.4) rotate(-45)">PC1</text>
<text transform="translate(568.45 1886.4) rotate(-45)">PC2</text>
<text transform="translate(725.35 1886.4) rotate(-45)">PC3</text>
<text transform="translate(882.25 1886.4) rotate(-45)">TIR</text>
</g>
<rect x="952.5" y="1084.7" width="53.5" height="43.74" fill="#ff7e87"/>
<rect x="952.5" y="1128.04" width="53.5" height="34.66" fill="#ff8483"/>
<rect x="952.5" y="1162.3" width="53.5" height="34.66" fill="#ff8880"/>
<rect x="952.5" y="1196.56" width="53.5" height="34.66" fill="#ff8c7e"/>
<rect x="952.5" y="1230.82" width="53.5" height="34.66" fill="#ff8f7b"/>
<rect x="952.5" y="1265.08" width="53.5" height="34.66" fill="#ff9478"/>
<rect x="952.5" y="1299.34" width="53.5" height="34.66" fill="#ff9874"/>
<rect x="952.5" y="1333.6" width="53.5" height="34.66" fill="#ff9d70"/>
<rect x="952.5" y="1367.86" width="53.5" height="34.66" fill="#ffa26c"/>
<rect x="952.5" y="1402.13" width="53.5" height="34.66" fill="#ffa66a"/>
<rect x="952.5" y="1436.39" width="53.5" height="8.96" fill="#ffa968"/>
<rect x="952.5" y="1444.94" width="53.5" height="8.96" fill="#ffaa68"/>
<rect x="952.5" y="1453.5" width="53.5" height="8.96" fill="#ffab67"/>
<rect x="952.5" y="1462.05" width="53.5" height="8.96" fill="#feab69"/>
<rect x="952.5" y="1470.61" width="53.5" height="8.96" fill="#fcab6d"/>
<rect x="952.5" y="1479.16" width="53.5" height="8.96" fill="#faac70"/>
<rect x="952.5" y="1487.72" width="53.5" height="8.96" fill="#f9ac74"/>
<rect x="952.5" y="1496.27" width="53.5" height="8.96" fill="#f6ac78"/>
<rect x="952.5" y="1504.83" width="53.5" height="8.96" fill="#f2ac7b"/>
<rect x="952.5" y="1513.39" width="53.5" height="8.96" fill="#edac7f"/>
<rect x="952.5" y="1521.94" width="53.5" height="8.96" fill="#e8ad83"/>
<rect x="952.5" y="1530.5" width="53.5" height="8.96" fill="#e3ad87"/>
<rect x="952.5" y="1539.05" width="53.5" height="8.96" fill="#ddae8c"/>
<rect x="952.5" y="1547.61" width="53.5" height="8.96" fill="#d6af91"/>
<rect x="952.5" y="1556.16" width="53.5" height="8.96" fill="#cfb097"/>
<rect x="952.5" y="1564.72" width="53.5" height="8.96" fill="#c8b19c"/>
<rect x="952.5" y="1573.28" width="53.5" height="8.96" fill="#c1b2a1"/>
<rect x="952.5" y="1581.83" width="53.5" height="8.96" fill="#bdb3a4"/>
<rect x="952.5" y="1590.39" width="53.5" height="8.96" fill="#b8b4a7"/>
<rect x="952.5" y="1598.94" width="53.5" height="8.96" fill="#b3b4aa"/>
<rect x="952.5" y="1607.5" width="53.5" height="8.96" fill="#aeb5ad"/>
<rect x="952.5" y="1616.05" width="53.5" height="8.96" fill="#a9b5b0"/>
<rect x="952.5" y="1624.61" width="53.5" height="8.96" fill="#a3b5b4"/>
<rect x="952.5" y="1633.16" width="53.5" height="8.96" fill="#9eb6b7"/>
<rect x="952.5" y="1641.72" width="53.5" height="8.96" fill="#99b6ba"/>
<rect x="952.5" y="1650.28" width="53.5" height="8.96" fill="#92b6bf"/>
<rect x="952.5" y="1658.83" width="53.5" height="8.96" fill="#8bb7c4"/>
<rect x="952.5" y="1667.39" width="53.5" height="8.96" fill="#83b8c9"/>
<rect x="952.5" y="1675.94" width="53.5" height="8.96" fill="#7cb9ce"/>
<rect x="952.5" y="1684.5" width="53.5" height="8.96" fill="#74bad3"/>
<rect x="952.5" y="1693.05" width="53.5" height="8.96" fill="#70bad5"/>
<rect x="952.5" y="1701.61" width="53.5" height="8.96" fill="#6cbad6"/>
<rect x="952.5" y="1710.17" width="53.5" height="8.96" fill="#68bbd8"/>
<rect x="952.5" y="1718.72" width="53.5" height="8.96" fill="#63bbda"/>
<rect x="952.5" y="1727.28" width="53.5" height="8.96" fill="#59bbdd"/>
<rect x="952.5" y="1735.83" width="53.5" height="8.96" fill="#4bbce1"/>
<rect x="952.5" y="1744.39" width="53.5" height="8.96" fill="#3ebde5"/>
<rect x="952.5" y="1752.94" width="53.5" height="8.96" fill="#31bee9"/>
<rect x="952.5" y="1761.5" width="53.5" height="8.96" fill="#23beee"/>
<rect x="952.5" y="1770.05" width="53.5" height="8.96" fill="#15bff4"/>
<rect x="952.5" y="1778.61" width="53.5" height="8.96" fill="#08bffa"/>
<rect x="952.5" y="1787.17" width="53.5" height="8.96" fill="#04bffd"/>
<rect x="952.5" y="1795.72" width="53.5" height="8.96" fill="#00bfff"/>
<rect x="952.5" y="1804.28" width="53.5" height="8.96" fill="#00bfff"/>
<rect x="952.5" y="1812.83" width="53.5" height="8.96" fill="#00bfff"/>
<rect x="952.5" y="1821.39" width="53.5" height="8.96" fill="#00bfff"/>
<rect x="952.5" y="1829.94" width="53.5" height="8.96" fill="#00bfff"/>
<rect x="952.5" y="1084.7" width="53.5" height="753.8" fill="none" stroke="#3a3a3a" stroke-opacity="0.85" stroke-width="1.5"/>
<path d="M1006 1084.7h15M1006 1160.08h15M1006 1235.46h15M1006 1310.84h15M1006 1386.22h15M1006 1461.6h15M1006 1536.98h15M1006 1612.36h15M1006 1687.74h15M1006 1763.12h15M1006 1838.5h15" stroke="#5a5a5a" stroke-width="3" fill="none"/>
<g font-family="'Liberation Serif','DejaVu Serif',serif" font-weight="bold" font-size="39" fill="#000" stroke="#000" stroke-width="0.5">
<text x="1036.5" y="1098.88">1</text>
<text x="1036.5" y="1174.26">0.8</text>
<text x="1036.5" y="1249.64">0.6</text>
<text x="1036.5" y="1325.02">0.4</text>
<text x="1036.5" y="1400.4">0.2</text>
<text x="1036.5" y="1475.78">0</text>
<text x="1036.5" y="1551.16">-0.2</text>
<text x="1036.5" y="1626.54">-0.4</text>
<text x="1036.5" y="1701.92">-0.6</text>
<text x="1036.5" y="1777.3">-0.8</text>
<text x="1036.5" y="1852.68">-1</text>
</g>
<g font-family="'Liberation Serif','DejaVu Serif',serif" text-anchor="middle" fill="#161616">
<text transform="translate(518.7 2011.4) scale(1.0 1)" font-size="58.5">(</text>
<text x="548.2" y="2010.9" font-size="72">c</text>
<text transform="translate(578.9 2011.4) scale(1.0 1)" font-size="58.5">)</text>
</g>
</g>
</g>
</svg>
</body>
</html>
